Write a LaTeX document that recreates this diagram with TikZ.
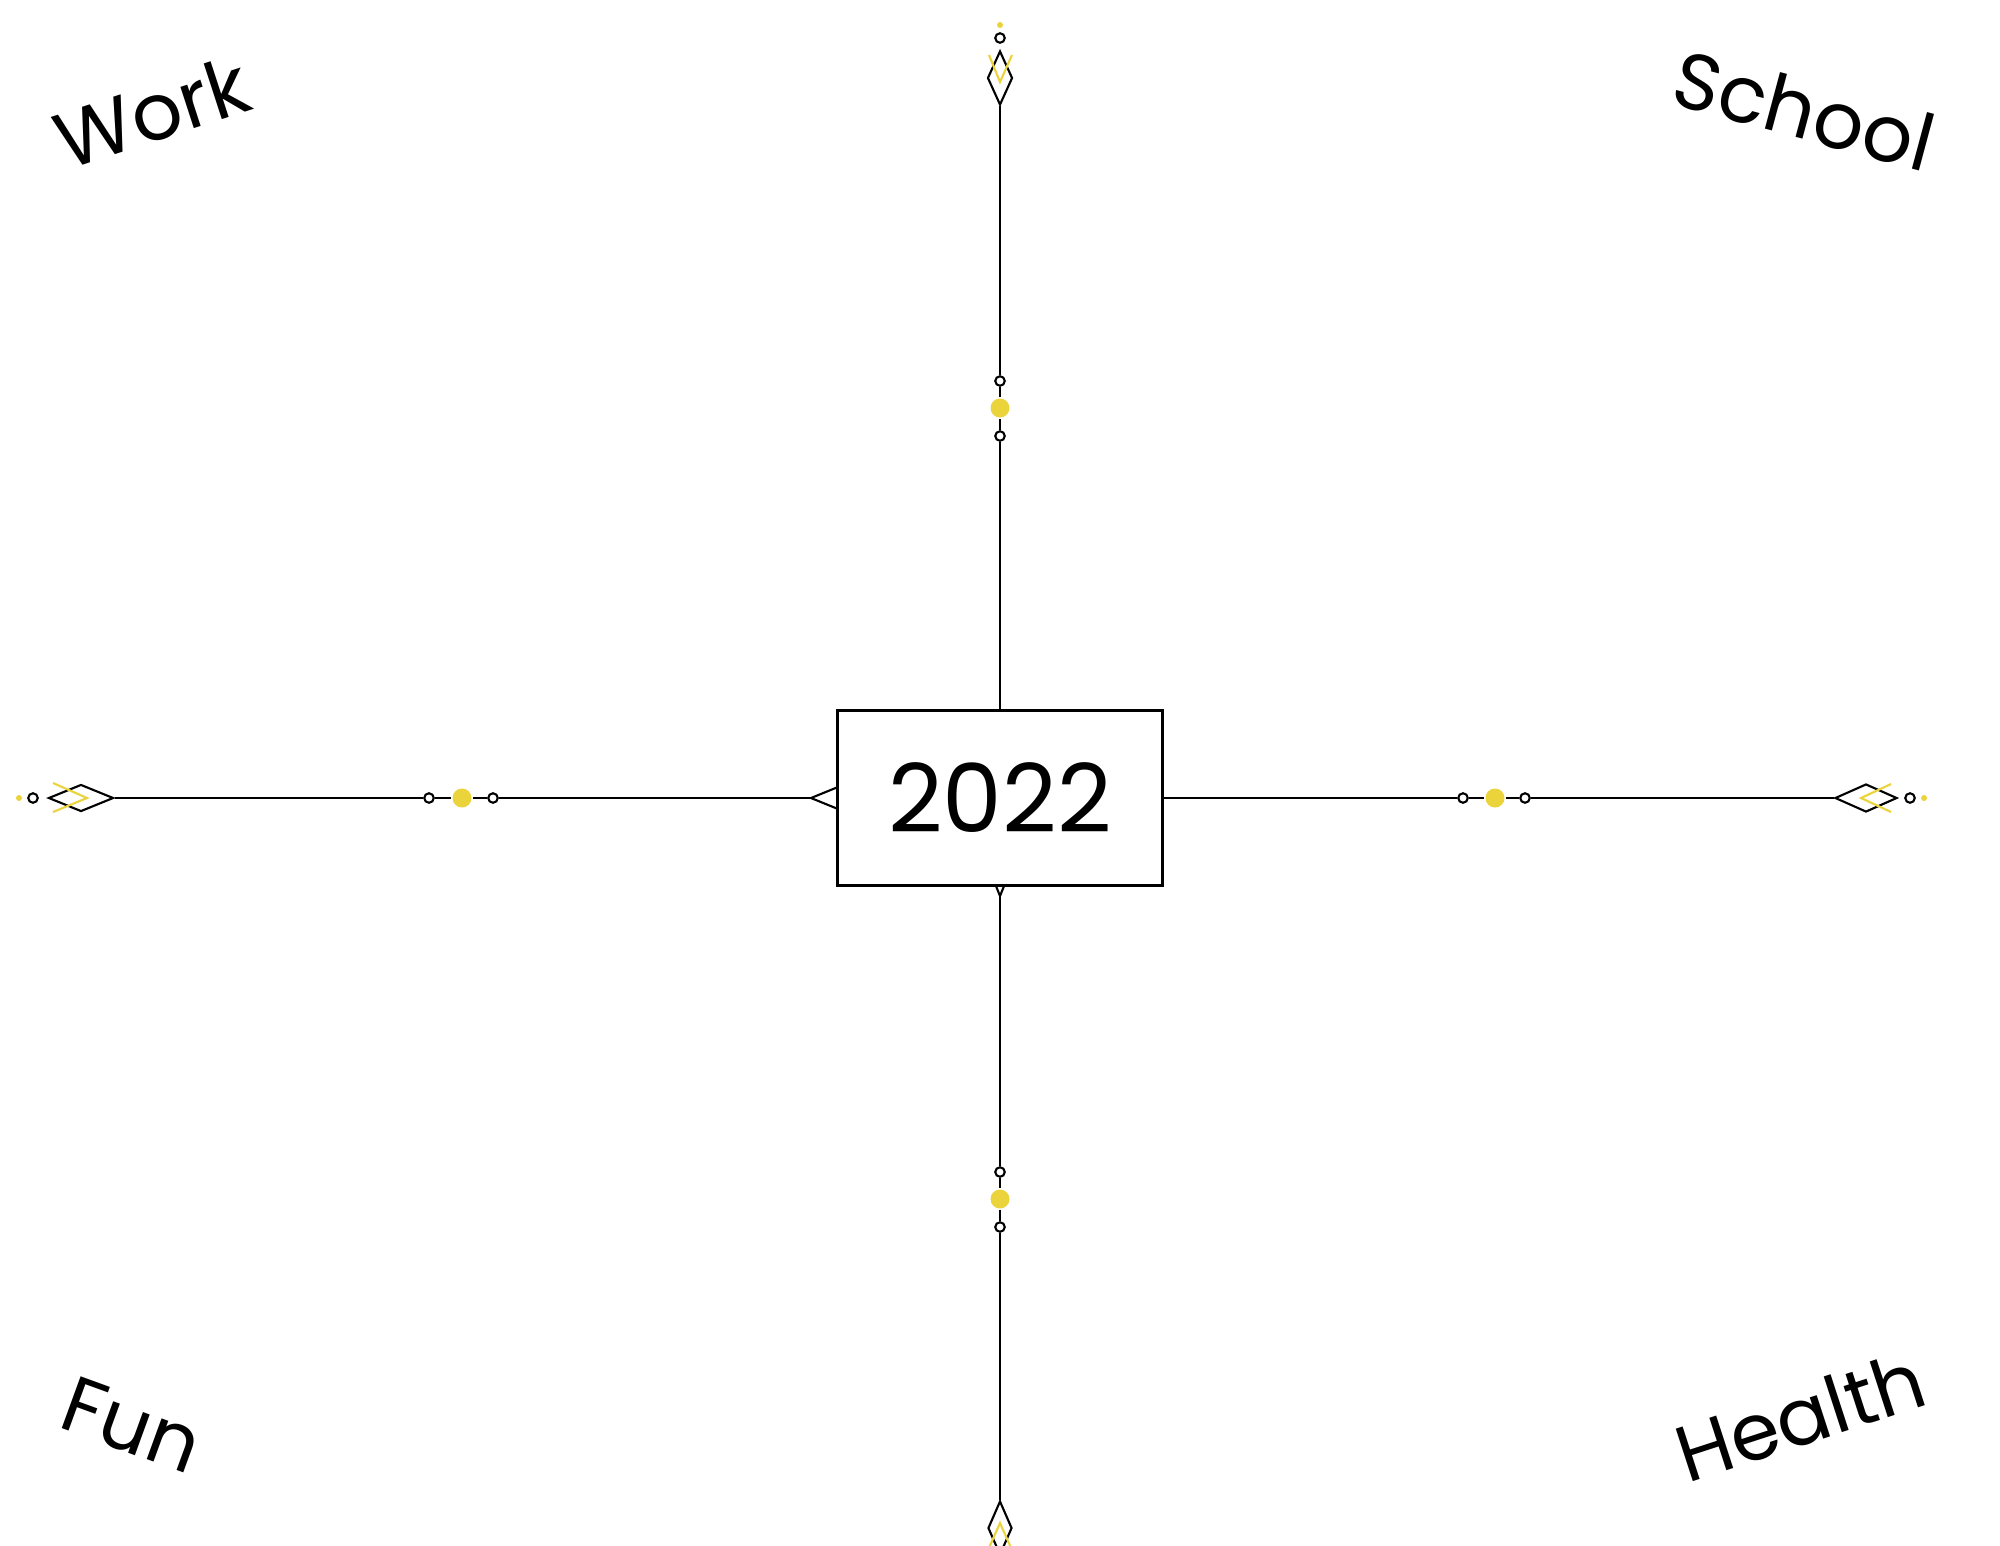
\documentclass[tikz,border=0pt]{standalone}
\usepackage{fontspec}
\setmainfont{Poppins}
\usetikzlibrary{shapes.geometric}
\definecolor{marker}{RGB}{235,211,60}

\begin{document}
\begin{tikzpicture}[x=0.01cm,y=-0.01cm,line width=0.6pt,
    ring/.style={circle,draw,fill=white,inner sep=0pt,minimum size=0.095cm},
    bead/.style={circle,fill=marker,inner sep=0pt,minimum size=0.19cm},
    speck/.style={circle,fill=marker,inner sep=0pt,minimum size=0.06cm},
    gem/.style={diamond,draw,inner sep=0pt},
    chev/.style={draw=marker,line width=0.6pt},
    area/.style={font=\fontsize{22.5}{27}\selectfont}]
    % Fix the page size
    \useasboundingbox (0,0) rectangle (2000,1545);

    % Draw the year box
    \node[draw,line width=0.8pt,minimum width=3.25cm,minimum height=1.75cm,
        font=\fontsize{27}{32}\selectfont] (year) at (1000,798) {2022};

    % Draw the top branch
    \node[ring] (topA) at (1000,436) {};
    \node[bead] (topB) at (1000,408) {};
    \node[ring] (topC) at (1000,381) {};
    \node[gem,minimum width=0.25cm,minimum height=0.54cm] (topgem) at (1000,78) {};
    \node[ring] (topring) at (1000,38) {};
    \node[speck] (topspeck) at (1000,25) {};
    \draw (year) -- (topA) -- (topB) -- (topC) -- (topgem);
    \draw[chev] (989,55) -- (1000,82) -- (1012,55);

    % Draw the left branch
    \node[ring] (leftA) at (493,798) {};
    \node[bead] (leftB) at (462,798) {};
    \node[ring] (leftC) at (429,798) {};
    \node[gem,minimum width=0.65cm,minimum height=0.27cm] (leftgem) at (81,798) {};
    \node[ring] (leftring) at (33,798) {};
    \node[speck] (leftspeck) at (19,798) {};
    \coordinate (leftfoot) at (811,798);
    \coordinate (leftfootU) at (838,787);
    \coordinate (leftfootD) at (838,809);
    \draw (leftfootU) -- (leftfoot) -- (leftfootD);
    \draw (leftfoot) -- (leftA) -- (leftB) -- (leftC) -- (leftgem);
    \draw[chev] (53,783) -- (87,798) -- (53,812);

    % Draw the right branch
    \node[ring] (rightA) at (1463,798) {};
    \node[bead] (rightB) at (1495,798) {};
    \node[ring] (rightC) at (1525,798) {};
    \node[gem,minimum width=0.62cm,minimum height=0.28cm] (rightgem) at (1866,798) {};
    \node[ring] (rightring) at (1910,798) {};
    \node[speck] (rightspeck) at (1924,798) {};
    \draw (year) -- (rightA) -- (rightB) -- (rightC) -- (rightgem);
    \draw[chev] (1891,784) -- (1861,798) -- (1891,812);

    % Draw the bottom branch
    \node[ring] (botA) at (1000,1172) {};
    \node[bead] (botB) at (1000,1199) {};
    \node[ring] (botC) at (1000,1227) {};
    \node[gem,minimum width=0.24cm,minimum height=0.54cm] (botgem) at (1000,1528) {};
    \coordinate (botfoot) at (1000,896);
    \coordinate (botfootL) at (996,886);
    \coordinate (botfootR) at (1004,886);
    \draw (botfootL) -- (botfoot) -- (botfootR);
    \draw (botfoot) -- (botA) -- (botB) -- (botC) -- (botgem);
    \draw[chev] (988,1550) -- (1000,1523) -- (1012,1550);

    % Add the corner labels
    \node[area,rotate=18] (work) at (152,112) {Work};
    \node[area,rotate=-15] (school) at (1804,110) {School};
    \node[area,rotate=-20] (fun) at (132,1425) {Fun};
    \node[area,rotate=18] (health) at (1800,1416) {Health};
\end{tikzpicture}
\end{document}
